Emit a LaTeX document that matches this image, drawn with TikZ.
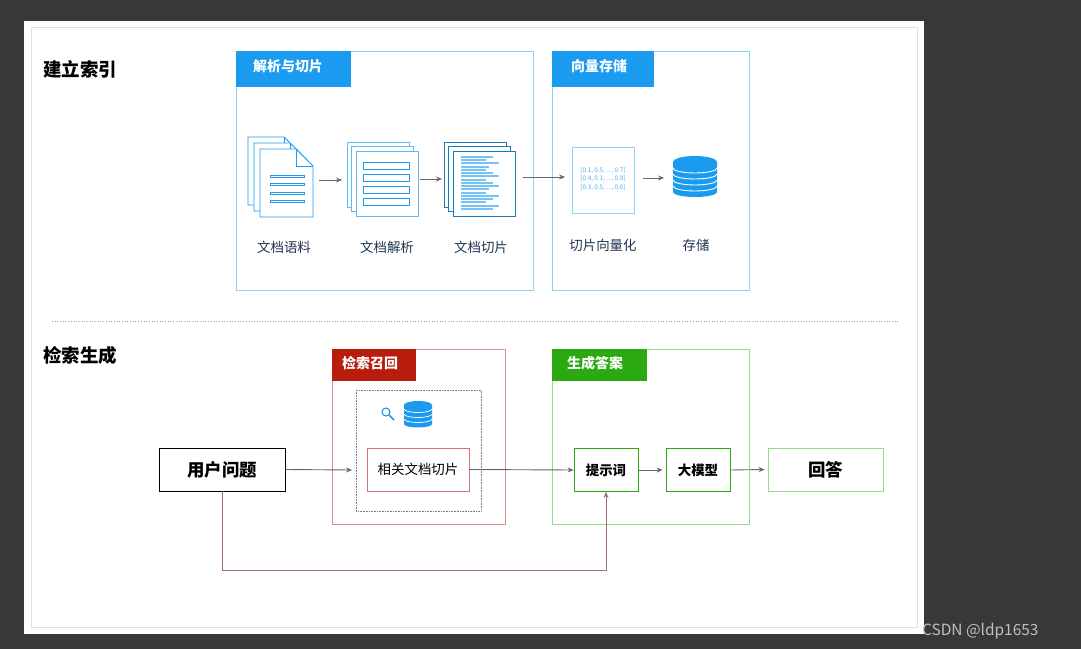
\documentclass[tikz,border=0pt]{standalone}
\usepackage{fontspec}
\setmainfont{Noto Sans CJK SC}
\usetikzlibrary{arrows.meta}
\definecolor{bl}{HTML}{1A9BF0}
\definecolor{lbl}{HTML}{8ED4F2}
\definecolor{rd}{HTML}{B71C0C}
\definecolor{lrd}{HTML}{E08A8A}
\definecolor{gr}{HTML}{2AAA10}
\definecolor{lgr}{HTML}{96DC8E}
\definecolor{txt}{HTML}{1F3550}
\begin{document}
\begin{tikzpicture}[x=1bp,y=-1bp,
  ar/.style={-{Stealth[length=6bp,width=5bp]},draw=gray!80!black,line width=0.9bp},
  tab/.style={anchor=north west,inner sep=0,text=white,font=\bfseries\fontsize{14}{16}\selectfont},
  lab/.style={font=\fontsize{13.5}{15}\selectfont,text=txt},
  pg/.style={draw=bl,fill=white,line width=0.9bp},
  bx/.style={minimum height=43bp,inner sep=0,font=\bfseries\fontsize{13.5}{15}\selectfont}]
\useasboundingbox (0,0) rectangle (1081,649);
\fill[black!78] (0,0) rectangle (1081,649);
\fill[white] (24,21) rectangle (924,634);
\draw[black!12] (31,27) rectangle (917,627);
\node[anchor=west,text=white!75!black,font=\fontsize{15.5}{17}\selectfont,inner sep=0] (wm) at (922,631) {CSDN @ldp1653};
% section titles
\node[anchor=west,font=\bfseries\fontsize{18.5}{20}\selectfont,inner sep=0] (t1) at (43,69) {建立索引};
\node[anchor=west,font=\bfseries\fontsize{18.5}{20}\selectfont,inner sep=0] (t2) at (43,355) {检索生成};
% boxes
\draw[lbl,line width=0.8bp] (236,51) rectangle (533,290);
\fill[bl] (236,51) rectangle (351,87);
\node[tab] (tb1) at (253,59) {解析与切片};
\draw[lbl,line width=0.8bp] (552,51) rectangle (749,290);
\fill[bl] (552,51) rectangle (654,87);
\node[tab] (tb2) at (571,59) {向量存储};
% doc icons
\foreach \d in {0,6,12}{
  \filldraw[pg] (248+\d,137+\d) -- (284+\d,137+\d) -- (301+\d,154+\d) -- (301+\d,205+\d) -- (248+\d,205+\d) -- cycle;
  \draw[bl,line width=0.9bp] (284+\d,137+\d) -- (284+\d,154+\d) -- (301+\d,154+\d);}
\foreach \y in {175,183,192,200}{\draw[bl,line width=0.9bp] (270,\y) rectangle (304,\y+2.5);}
\foreach \d in {0,4,9}{\filldraw[pg,draw=bl!70] (347+\d,142+\d) rectangle (409+\d,207+\d);}
\foreach \y in {162,174,186,198}{\draw[bl,line width=0.9bp] (363,\y) rectangle (409,\y+7);}
\foreach \d in {0,4,9}{\filldraw[pg,draw=bl!80!black] (444+\d,142+\d) rectangle (506+\d,207+\d);}
\foreach \y/\w in {157/32,160/25,163/38,167/28,170/25,173/32,176/38,180/25,183/32,186/38,189/28,193/25,196/38,199/32,202/25,206/38,209/32}{\draw[bl!60,line width=1.1bp] (461,\y) -- (461+\w,\y);}
% vector box
\draw[lbl,line width=0.8bp] (572,147) rectangle (634,213);
\node[align=left,text=bl!80,font=\fontsize{6.3}{8.5}\selectfont,inner sep=0] (vec) at (603,179) {{[0.1, 0.5, ..., 0.7]}\\{}{[0.4, 0.1, ..., 0.9]}\\{}{[0.3, 0.5, ..., 0.6]}};
% db icon
\fill[bl] (673,162) -- (673,192) arc[start angle=180,end angle=0,x radius=22,y radius=5] -- (717,162) arc[start angle=0,end angle=-180,x radius=22,y radius=6];
\foreach \y in {168,174,180,186}{\draw[white,line width=0.9bp] (673,\y) arc[start angle=180,end angle=0,x radius=22,y radius=5];}
% labels
\node[lab] (l1) at (284,247) {文档语料};
\node[lab] (l2) at (387,247) {文档解析};
\node[lab] (l3) at (481,247) {文档切片};
\node[lab] (l4) at (603,245) {切片向量化};
\node[lab] (l5) at (696,245) {存储};
\coordinate (a1) at (319,180); \coordinate (b1) at (342,180);
\coordinate (a2) at (420,179); \coordinate (b2) at (442,179);
\coordinate (a3) at (523,177); \coordinate (b3) at (565,177);
\coordinate (a4) at (643,178); \coordinate (b4) at (664,178);
\draw[ar] (a1)--(b1); \draw[ar] (a2)--(b2); \draw[ar] (a3)--(b3); \draw[ar] (a4)--(b4);
% divider
\draw[black!40,dotted,line width=0.7bp] (52,321) -- (898,321);
% retrieval
\draw[lrd,line width=0.8bp] (332,349) rectangle (505,524);
\fill[rd] (332,349) rectangle (416,381);
\node[tab] (tb3) at (342,356) {检索召回};
\draw[black!50,densely dotted,line width=0.6bp] (356,390) rectangle (481,511);
\draw[bl,line width=1.1bp] (386,412) circle (4);
\draw[bl,line width=1.6bp] (389,415) -- (394,420);
\fill[bl] (404,405) -- (404,424) arc[start angle=180,end angle=0,x radius=14,y radius=3.5] -- (432,405) arc[start angle=0,end angle=-180,x radius=14,y radius=4];
\foreach \y in {409,414,419}{\draw[white,line width=0.7bp] (404,\y) arc[start angle=180,end angle=0,x radius=14,y radius=3.5];}
\node[bx,draw=lrd!80!rd,line width=0.8bp,minimum width=102bp,font=\fontsize{13.5}{15}\selectfont] (rel) at (418,469.5) {相关文档切片};
% generation
\draw[lgr,line width=0.8bp] (552,349) rectangle (749,524);
\fill[gr] (552,349) rectangle (647,381);
\node[tab] (tb4) at (567,356) {生成答案};
\node[bx,draw=black,line width=0.8bp,minimum width=126bp,font=\bfseries\fontsize{17.5}{19}\selectfont] (q) at (222,469.5) {用户问题};
\node[bx,draw=gr,line width=0.8bp,minimum width=64bp] (p) at (606,470) {提示词};
\node[bx,draw=gr,line width=0.8bp,minimum width=64bp] (m) at (698,470) {大模型};
\node[bx,draw=lgr,line width=0.8bp,minimum width=115bp,font=\bfseries\fontsize{17.5}{19}\selectfont] (ans) at (825.5,469.5) {回答};
\coordinate (qin) at (352,470);
\draw[ar] (q.east) -- (qin);
\draw[ar] (rel.east) -- (p.west);
\draw[ar] (p.east) -- ([xshift=-3bp]m.west);
\draw[ar] (m.east) -- ([xshift=-3bp]ans.west);
\draw[ar,draw=rd!50!black!60] (q.south) -- ++(0,79) -| (p.south);
\end{tikzpicture}
\end{document}
